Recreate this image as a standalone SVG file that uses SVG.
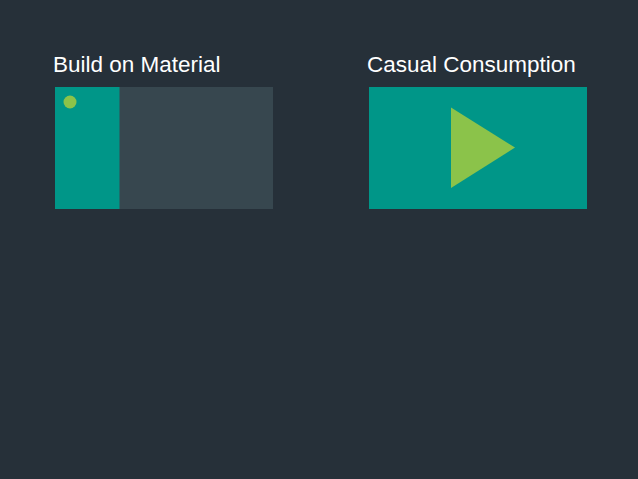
<svg xmlns="http://www.w3.org/2000/svg" width="638" height="479" viewBox="0 0 638 479">
<style>
.t{font-family:"Liberation Sans",Arial,sans-serif;font-size:22.5px;fill:#ffffff}
.teal{fill:#009688}
.green{fill:#8BC34A}
</style>
<rect width="638" height="479" fill="#263039"/>
<g id="build">
<text class="t" x="53" y="72">Build on Material</text>
<rect x="55" y="87" width="218" height="122" fill="#37474F"/>
<rect class="teal" x="55" y="87" width="64.5" height="122"/>
<circle class="green" cx="70" cy="102" r="6.5"/>
</g>
<g id="casual">
<text class="t" x="367" y="72">Casual Consumption</text>
<rect class="teal" x="369" y="87" width="218" height="122"/>
<polygon class="green" points="451,107.5 515,147.5 451,188"/>
</g>
<g id="connectors"/>
</svg>
